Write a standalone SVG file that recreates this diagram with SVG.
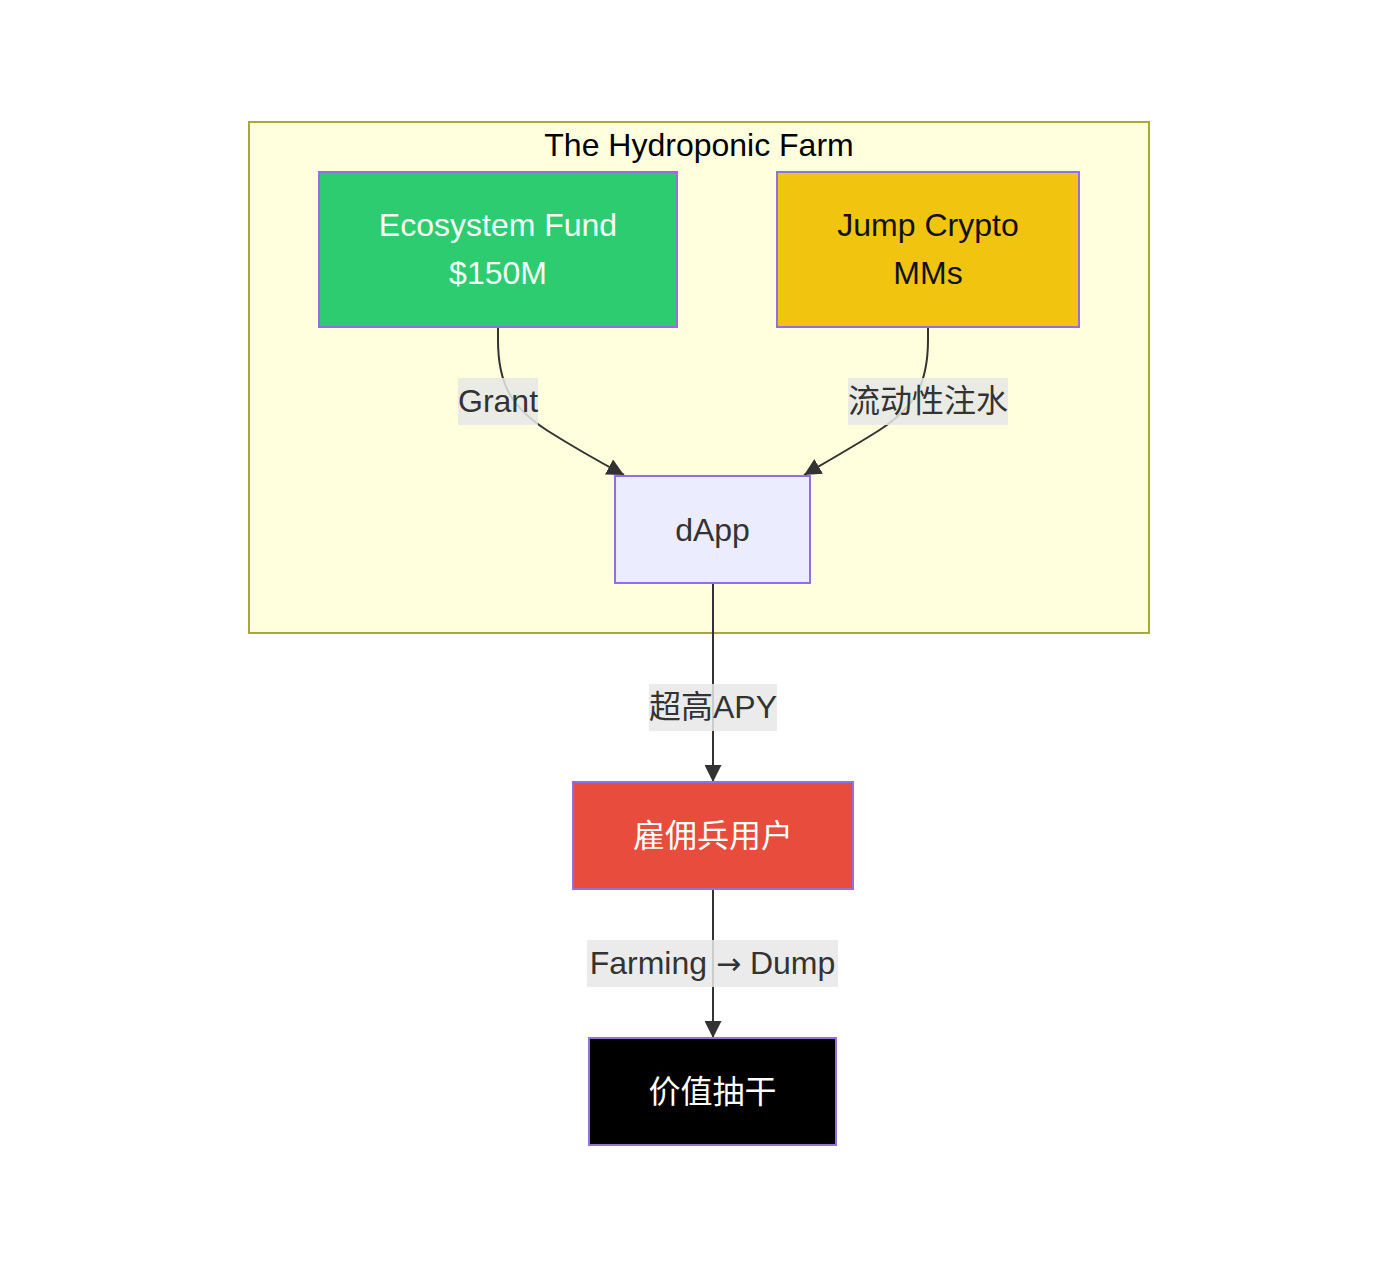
<svg xmlns="http://www.w3.org/2000/svg" width="1397" height="1267" viewBox="0 0 1397 1267">
<style>
text{font-family:"Liberation Sans",Arial,"Noto Sans CJK SC",sans-serif;font-size:32px;text-anchor:middle}
.node{stroke:#9370DB;stroke-width:2}
.edge{fill:none;stroke:#333;stroke-width:2}
.lbl{fill:#e8e8e8;fill-opacity:0.85}
.lt{fill:#333}
.arr{font-family:"DejaVu Sans",sans-serif;font-size:30px}
</style>
<defs>
<marker id="ah" viewBox="0 0 10 10" refX="10" refY="5" markerWidth="17" markerHeight="17" markerUnits="userSpaceOnUse" orient="auto">
<path d="M0,0 L10,5 L0,10 z" fill="#333"/>
</marker>
</defs>
<rect width="1397" height="1267" fill="#fff"/>
<g id="cluster">
<rect x="249" y="122" width="900" height="511" fill="#ffffde" stroke="#aaaa33" stroke-width="2"/>
<text x="699" y="156" fill="#000">The Hydroponic Farm</text>
</g>
<g id="connectors">
<path class="edge" d="M498,327 L498,340 C498,385 512,408 548,431 C575,448 598,461 624,475" marker-end="url(#ah)"/>
<path class="edge" d="M928,327 L928,340 C928,385 914,408 878,431 C851,448 828,461 804,475" marker-end="url(#ah)"/>
<path class="edge" d="M713,583 L713,782" marker-end="url(#ah)"/>
<path class="edge" d="M713,889 L713,1038" marker-end="url(#ah)"/>
<g id="label-grant"><rect class="lbl" x="458" y="378" width="80" height="47"/><text class="lt" x="498" y="412">Grant</text></g>
<g id="label-liq"><rect class="lbl" x="848" y="378" width="160" height="47"/><text class="lt" x="928" y="412">流动性注水</text></g>
<g id="label-apy"><rect class="lbl" x="649" y="684" width="128" height="47"/><text class="lt" x="713" y="718">超高APY</text></g>
<g id="label-dump"><rect class="lbl" x="587" y="940" width="251" height="47"/><text class="lt" x="712.5" y="974">Farming <tspan class="arr">→</tspan> Dump</text></g>
</g>
<g id="fund">
<rect class="node" x="319" y="172" width="358" height="155" fill="#2ecc71"/>
<text x="498" y="236" fill="#f4fff6">Ecosystem Fund</text>
<text x="498" y="284" fill="#f4fff6">$150M</text>
</g>
<g id="jump">
<rect class="node" x="777" y="172" width="302" height="155" fill="#f1c40f"/>
<text x="928" y="236" fill="#111">Jump Crypto</text>
<text x="928" y="284" fill="#111">MMs</text>
</g>
<g id="dapp">
<rect class="node" x="615" y="476" width="195" height="107" fill="#ececff"/>
<text x="712.5" y="541" fill="#333">dApp</text>
</g>
<g id="users">
<rect class="node" x="573" y="782" width="280" height="107" fill="#e74c3c"/>
<text x="713" y="847" fill="#fff">雇佣兵用户</text>
</g>
<g id="drain">
<rect class="node" x="589" y="1038" width="247" height="107" fill="#000"/>
<text x="712.5" y="1103" fill="#fff">价值抽干</text>
</g>
</svg>
